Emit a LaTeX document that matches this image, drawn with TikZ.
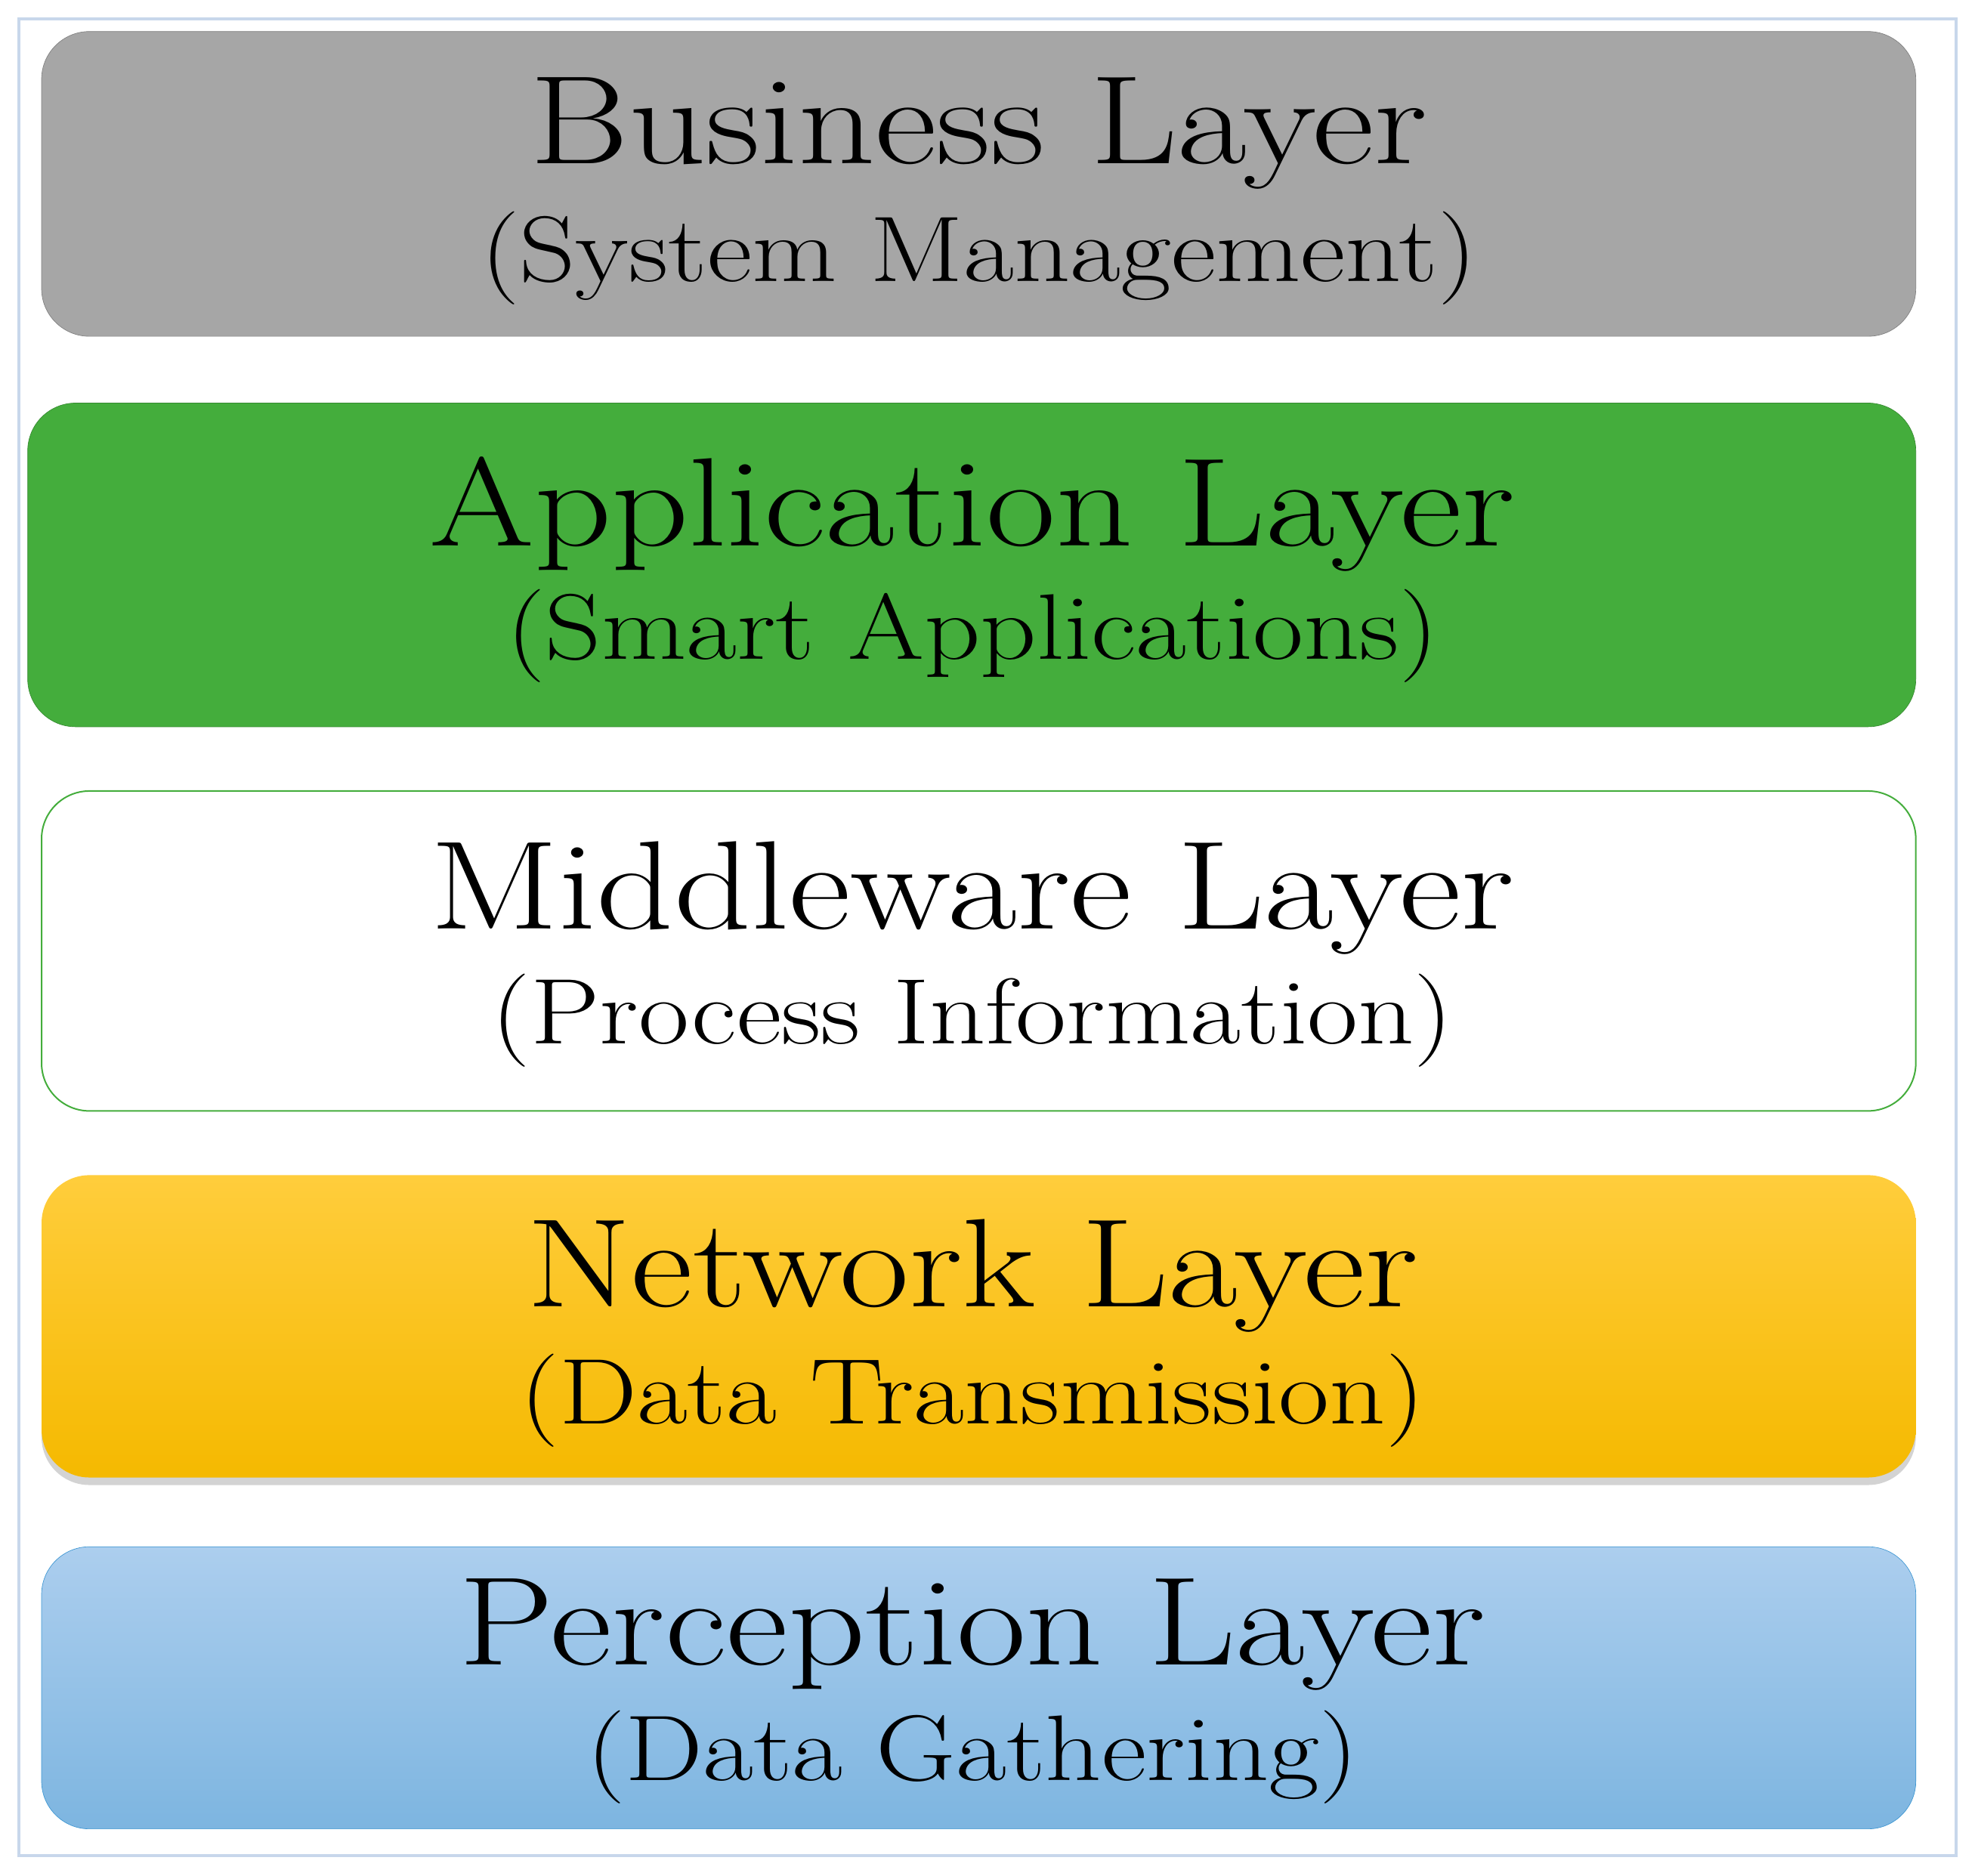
\documentclass[tikz,border=0pt]{standalone}
\usetikzlibrary{shadows}
\definecolor{gr}{HTML}{A6A6A6}
\definecolor{gn}{HTML}{44AD3C}
\newcommand{\ttltxt}[1]{\scalebox{1.2}[1]{\fontsize{100}{110}\selectfont #1}}
\newcommand{\subtxt}[1]{\scalebox{1.18}[1]{\fontsize{74}{80}\selectfont #1}}
\begin{document}
\begin{tikzpicture}[x=1pt,y=-1pt,
  layer/.style={rounded corners=38pt,draw}]
\useasboundingbox (0,0) rectangle (1568,1489);
\draw[color={rgb,255:red,200;green,215;blue,235},line width=2.5] (15,15) rectangle (1553,1473);
\draw[layer,fill=gr,draw=gray] (33,25) rectangle (1521,267);
\node (t1) at (777,106) {\ttltxt{Business Layer}};
\node (s1) at (777,205) {\subtxt{(System Management)}};
\draw[layer,fill=gn,draw=gn!80!black] (22,320) rectangle (1521,577);
\node (t2) at (772,408) {\ttltxt{Application Layer}};
\node (s2) at (772,505) {\subtxt{(Smart Applications)}};
\draw[layer,fill=white,draw=gn,line width=1.2] (33,628) rectangle (1521,882);
\node (t3) at (772,713) {\ttltxt{Middleware Layer}};
\node (s3) at (772,810) {\subtxt{(Process Information)}};
\draw[layer,draw=none,top color={rgb,255:red,255;green,205;blue,60},bottom color={rgb,255:red,245;green,185;blue,0},drop shadow={shadow xshift=0pt,shadow yshift=-6pt,opacity=0.35}] (33,933) rectangle (1521,1173);
\node (t4) at (772,1013) {\ttltxt{Network Layer}};
\node (s4) at (772,1112) {\subtxt{(Data Transmission)}};
\draw[layer,draw={rgb,255:red,60;green,150;blue,210},top color={rgb,255:red,172;green,206;blue,238},bottom color={rgb,255:red,125;green,181;blue,224}] (33,1228) rectangle (1521,1452);
\node (t5) at (772,1298) {\ttltxt{Perception Layer}};
\node (s5) at (772,1395) {\subtxt{(Data Gathering)}};
\end{tikzpicture}
\end{document}
